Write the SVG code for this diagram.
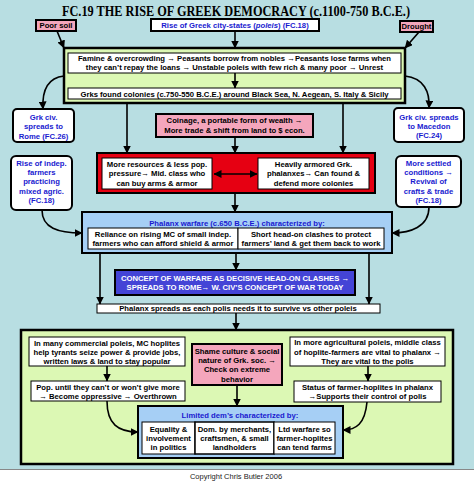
<svg xmlns="http://www.w3.org/2000/svg" width="474" height="481" viewBox="0 0 474 481">
<defs>
<marker id="ah" viewBox="0 0 8 8" refX="7.5" refY="4" markerWidth="8" markerHeight="8" markerUnits="userSpaceOnUse" orient="auto-start-reverse"><path d="M0,0 L8,4 L0,8 z" fill="#000"/></marker>
<style>
.t{font-family:"Liberation Sans",Arial,sans-serif;font-weight:bold;font-size:7.7px;fill:#000;text-anchor:middle}
.b{fill:#1a1ad0}
.w{fill:#fff}
.ln{stroke:#000;stroke-width:1.6;fill:none;marker-end:url(#ah)}
.wb{fill:#fff;stroke:#000;stroke-width:1}
.pk{fill:#f4a6bc;stroke:#000;stroke-width:2}
.gr{fill:#dcf8b4;stroke:#000;stroke-width:2.5}
.lb{fill:#a6cff5;stroke:#000;stroke-width:2}
.rd{fill:#fff;stroke:#000;stroke-width:2}
</style>
</defs>
<rect x="0" y="0" width="474" height="481" fill="#fff"/>
<rect x="0" y="0" width="474" height="469" fill="#b8dee2"/>
<line x1="0" y1="469.5" x2="474" y2="469.5" stroke="#888" stroke-width="1"/>
<text x="236" y="16" font-family="Liberation Serif,serif" font-weight="bold" font-size="14" text-anchor="middle" textLength="348" lengthAdjust="spacingAndGlyphs">FC.19 THE RISE OF GREEK DEMOCRACY (c.1100-750 B.C.E.)</text>

<g id="poor-soil"><rect class="pk" x="36" y="20" width="40" height="11"/><text class="t" x="56" y="28.3">Poor soil</text></g>
<g id="rise-city-states"><rect class="rd" x="151" y="19" width="168" height="12"/><text class="t b" x="235" y="27.8">Rise of Greek city-states  (<tspan font-style="italic">poleis</tspan>) (FC.18)</text></g>
<g id="drought"><rect class="pk" x="400" y="21" width="33" height="11"/><text class="t" x="416.5" y="29.3">Drought</text></g>

<g id="famine"><rect class="gr" x="64" y="48" width="341" height="55"/>
<rect class="wb" x="68" y="53" width="333" height="20"/>
<text class="t" x="234.5" y="61">Famine &amp; overcrowding → Peasants borrow from nobles →Peasants lose farms when</text>
<text class="t" x="234.5" y="70">they can’t repay the loans → Unstable poleis with few rich &amp; many poor  → Unrest</text>
<rect class="wb" x="68" y="88" width="333" height="11"/>
<text class="t" x="234.5" y="96.5">Grks found colonies (c.750-550 B.C.E.) around Black Sea, N. Aegean, S. Italy &amp; Sicily</text></g>

<g id="rome"><rect class="rd" x="13" y="109" width="61" height="33" rx="4"/>
<text class="t b" x="43.5" y="119.5">Grk civ.</text><text class="t b" x="43.5" y="129">spreads to</text><text class="t b" x="43.5" y="138.5">Rome  (FC.26)</text></g>
<g id="macedon"><rect class="rd" x="394" y="108" width="70" height="34" rx="4"/>
<text class="t b" x="429" y="119.5">Grk civ. spreads</text><text class="t b" x="429" y="129">to Macedon</text><text class="t b" x="429" y="138">(FC.24)</text></g>

<g id="indep-farmers"><rect class="rd" x="11" y="156" width="61" height="54" rx="5"/>
<text class="t b" x="41.5" y="165.5">Rise of indep.</text><text class="t b" x="41.5" y="174.8">farmers</text><text class="t b" x="41.5" y="184.2">practicing</text><text class="t b" x="41.5" y="193.5">mixed agric.</text><text class="t b" x="41.5" y="202.8">(FC.18)</text></g>
<g id="settled"><rect class="rd" x="396" y="156" width="65" height="51" rx="5"/>
<text class="t b" x="428.5" y="165.5">More settled</text><text class="t b" x="428.5" y="174.8">conditions →</text><text class="t b" x="428.5" y="184.2">Revival of</text><text class="t b" x="428.5" y="193.5">crafts &amp; trade</text><text class="t b" x="428.5" y="202.8">(FC.18)</text></g>

<g id="coinage"><rect class="pk" x="156" y="114" width="157" height="23"/>
<text class="t" x="234.5" y="123">Coinage, a portable form of wealth →</text><text class="t" x="234.5" y="132.5">More trade &amp; shift from land to $ econ.</text></g>

<g id="resources"><rect x="97" y="153" width="278" height="40" fill="#e60012" stroke="#000" stroke-width="2"/>
<rect class="wb" x="102" y="158" width="110" height="31"/>
<text class="t" x="157" y="166.7">More resources &amp; less pop.</text><text class="t" x="157" y="176.2">pressure→ Mid. class who</text><text class="t" x="157" y="185.6">can buy arms &amp; armor</text>
<rect class="wb" x="258" y="158" width="111" height="31"/>
<text class="t" x="313.5" y="166.7">Heavily armored Grk.</text><text class="t" x="313.5" y="176.2">phalanxes→ Can found &amp;</text><text class="t" x="313.5" y="185.6">defend more colonies</text></g>

<g id="phalanx"><rect class="lb" x="82" y="212" width="310" height="41"/>
<text class="t b" x="237" y="225.5">Phalanx warfare (c.650 B.C.E.) characterized by:</text>
<rect class="wb" x="88" y="228" width="150" height="21"/>
<text class="t" x="163" y="236.7">Reliance on rising MC of small indep.</text><text class="t" x="163" y="246">farmers who can afford shield &amp; armor</text>
<rect class="wb" x="238" y="228" width="146" height="21"/>
<text class="t" x="311" y="236.7">Short head-on clashes to protect</text><text class="t" x="311" y="246">farmers’ land &amp; get them back to work</text></g>

<g id="concept"><rect x="115" y="270" width="240" height="25" fill="#4444d6" stroke="#000" stroke-width="2"/>
<text class="t w" x="235" y="280.5">CONCEPT OF WARFARE AS DECISIVE HEAD-ON CLASHES →</text><text class="t w" x="235" y="289.8">SPREADS TO ROME→ W. CIV’S CONCEPT OF WAR TODAY</text></g>

<g id="spreads"><rect class="wb" x="97" y="304" width="283" height="9"/>
<text class="t" x="238" y="311.4">Phalanx spreads as each polis needs it to survive vs other poleis</text></g>

<g id="lower"><rect class="gr" x="21" y="330" width="432" height="134"/></g>

<g id="commercial"><rect class="wb" x="29" y="337" width="156" height="29"/>
<text class="t" x="107" y="345.5">In  many commercial poleis, MC hoplites</text><text class="t" x="107" y="355">help tyrants seize power &amp; provide jobs,</text><text class="t" x="107" y="364.3">written laws &amp; land to stay popular</text></g>
<g id="pop-until"><rect class="wb" x="31" y="381" width="154" height="20"/>
<text class="t" x="108" y="389.5">Pop. until they can’t or won’t give more</text><text class="t" x="108" y="398.5">→ Become oppressive → Overthrown</text></g>

<g id="shame"><rect class="pk" x="192" y="344" width="90" height="41"/>
<text class="t" x="237" y="353.5">Shame culture &amp; social</text><text class="t" x="237" y="363">nature of Grk. soc. →</text><text class="t" x="237" y="372.3">Check on extreme</text><text class="t" x="237" y="381.5">behavior</text></g>

<g id="agricultural"><rect class="wb" x="290" y="337" width="155" height="29"/>
<text class="t" x="367.5" y="345">In more agricultural  poleis, middle class</text><text class="t" x="367.5" y="354.5">of hoplite-farmers are vital to phalanx →</text><text class="t" x="367.5" y="363.8">They are vital to the polis</text></g>
<g id="status"><rect class="wb" x="294" y="381" width="147" height="21"/>
<text class="t" x="367.5" y="389.5">Status of farmer-hoplites in phalanx</text><text class="t" x="367.5" y="398.8">→Supports their control of polis</text></g>

<g id="limited"><rect class="lb" x="138" y="406" width="205" height="52"/>
<text class="t b" x="240" y="418">Limited dem’s characterized by:</text>
<rect class="wb" x="142" y="422" width="53" height="32"/>
<text class="t" x="168.5" y="431.5">Equality &amp;</text><text class="t" x="168.5" y="440.5">involvement</text><text class="t" x="168.5" y="449.5">in politics</text>
<rect x="195" y="422" width="79" height="32" fill="#fff" stroke="#000" stroke-width="1.5"/>
<text class="t" x="234.5" y="431.5">Dom. by merchants,</text><text class="t" x="234.5" y="440.5">craftsmen, &amp; small</text><text class="t" x="234.5" y="449.5">landholders</text>
<rect class="wb" x="274" y="422" width="61" height="32"/>
<text class="t" x="304.5" y="431.5">Ltd warfare so</text><text class="t" x="304.5" y="440.5">farmer-hoplites</text><text class="t" x="304.5" y="449.5">can tend farms</text></g>

<g id="connectors">
<line class="ln" x1="57" y1="31" x2="64" y2="48"/>
<line class="ln" x1="235" y1="31" x2="235" y2="48"/>
<line class="ln" x1="419" y1="32" x2="405" y2="48"/>
<line class="ln" x1="235" y1="73" x2="235" y2="88"/>
<path class="ln" d="M64,76 C46,78 42,92 43,109"/>
<path class="ln" d="M405,76 C424,78 430,92 429,108"/>
<line class="ln" x1="127" y1="103" x2="127" y2="153"/>
<line class="ln" x1="343" y1="103" x2="343" y2="153"/>
<line class="ln" x1="235" y1="137" x2="235" y2="153"/>
<line class="ln" x1="214" y1="174" x2="257" y2="174" marker-start="url(#ah)"/>
<line class="ln" x1="235" y1="193" x2="235" y2="212"/>
<path class="ln" d="M42,210 C42,228 58,233 82,233"/>
<path class="ln" d="M429,207 C429,227 410,233 392,233"/>
<line class="ln" x1="100" y1="253" x2="100" y2="304"/>
<line class="ln" x1="369" y1="253" x2="369" y2="304"/>
<line class="ln" x1="236" y1="253" x2="236" y2="270"/>
<line class="ln" x1="236" y1="313" x2="236" y2="330"/>
<line class="ln" x1="107" y1="366" x2="107" y2="381"/>
<path class="ln" d="M107,401 C107,424 118,432 138,432"/>
<line class="ln" x1="237" y1="385" x2="237" y2="406"/>
<line class="ln" x1="368" y1="366" x2="368" y2="381"/>
<path class="ln" d="M367,402 C365,424 356,430 343,430"/>
</g>

<text x="236" y="479" font-family="Liberation Sans,Arial,sans-serif" font-size="7.5" text-anchor="middle" fill="#222">Copyright Chris Butler 2006</text>
</svg>
